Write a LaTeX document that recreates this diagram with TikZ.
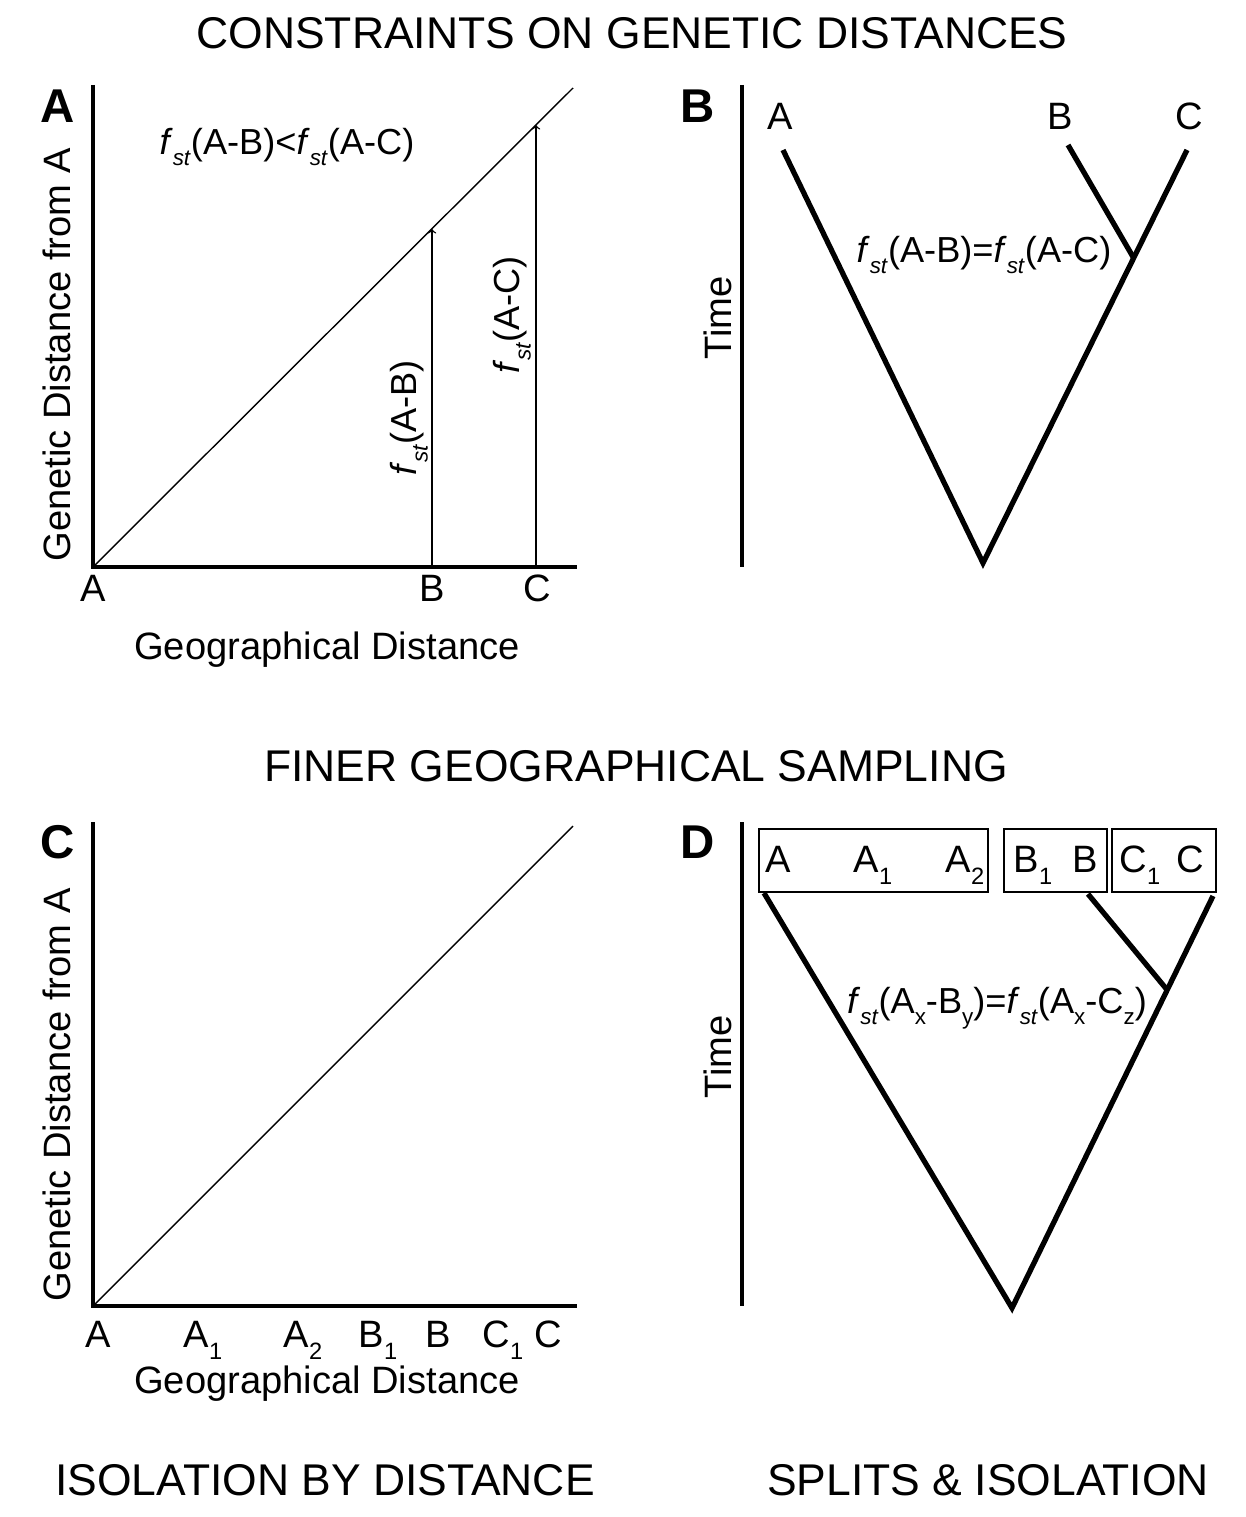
\documentclass[tikz,border=0pt]{standalone}
\usepackage{fontspec}
\setmainfont{Liberation Sans}
\usetikzlibrary{positioning,calc}
\newcommand{\lowsub}[1]{\raisebox{-0.6ex}{\scalebox{0.62}{#1}}}
\newcommand{\fst}{\textit{f}\lowsub{\textit{st}}}

\begin{document}
\begin{tikzpicture}[x=0.02cm,y=-0.02cm,
  axis/.style={line width=2.2pt},
  branch/.style={line width=3pt},
  diag/.style={line width=0.8pt},
  boxline/.style={line width=0.9pt},
  title/.style={font=\fontsize{25.3}{28}\selectfont},
  lab/.style={font=\fontsize{21.7}{24}\selectfont},
  eqlab/.style={font=\fontsize{20.6}{24}\selectfont},
  panel/.style={font=\fontsize{27}{30}\selectfont\bfseries}]
\useasboundingbox (0,0) rectangle (1246,1517);
\def\yTop{85}
\def\yBot{567}
\def\yTopC{822}
\def\yBotC{1306}

% titles
\node[title] (t1) at (632,33) {CONSTRAINTS ON GENETIC DISTANCES};
\node[title] (t2) at (636,766) {FINER GEOGRAPHICAL SAMPLING};
\node[title] (t3) at (325,1480) {ISOLATION BY DISTANCE};
\node[title] (t4) at (988,1480) {SPLITS \& ISOLATION};

% panel A
\coordinate (oA) at (93,\yBot);
\coordinate (yA) at (93,\yTop);
\coordinate (xA) at (577,\yBot);
\coordinate (dA) at (573,88);
\coordinate (bA) at (432,\yBot);
\coordinate (cA) at (536,\yBot);
\coordinate (bAtop) at (432,229);
\coordinate (cAtop) at (536,125);
\draw[axis] (yA) -- (oA) -- (xA);
\draw[diag] (oA) -- (dA);
\draw[diag,->] (bA) -- (bAtop);
\draw[diag,->] (cA) -- (cAtop);
\path
(58,106) node [panel] (pA) {A}
(93,588) node [lab] (axA) {A}
(432,588) node [lab] (axB) {B}
(537,588) node [lab] (axC) {C}
(327,650) node [lab] (geoA) {Geographical Distance}
(57,355) node [lab,rotate=90] (genA) {Genetic Distance from A}
(287,147) node [eqlab] (ineq) {\fst(A-B)<\fst(A-C)}
(409,418) node [eqlab,rotate=90] (fAB) {\fst(A-B)}
(512,315) node [eqlab,rotate=90] (fAC) {\fst(A-C)}
;

% panel B
\coordinate (tB1) at (742,\yTop);
\coordinate (tB2) at (742,\yBot);
\draw[axis] (tB1) -- (tB2);
\coordinate (rootB) at (983,563);
\coordinate (tipA) at (783,150);
\coordinate (tipB) at (1068,145);
\coordinate (tipC) at (1187,150);
\coordinate (splitB) at ($(rootB)!0.7385!(tipC)$);
\draw[branch] (tipA) -- (rootB) -- (tipC);
\draw[branch] (tipB) -- (splitB);
\path
(698,106) node [panel] (pB) {B}
(718,318) node [lab,rotate=90] (timeB) {Time}
(780,116) node [lab] (lA) {A}
(1060,116) node [lab] (lB) {B}
(1189,116) node [lab] (lC) {C}
(984,255) node [eqlab] (eqB) {\fst(A-B)=\fst(A-C)}
;

% panel C
\coordinate (oC) at (93,\yBotC);
\coordinate (yC) at (93,\yTopC);
\coordinate (xC) at (577,\yBotC);
\coordinate (dC) at (573,826);
\draw[axis] (yC) -- (oC) -- (xC);
\draw[diag] (oC) -- (dC);
\path
(58,842) node [panel] (pC) {C}
(327,1384) node [lab] (geoC) {Geographical Distance}
(57,1095) node [lab,rotate=90] (genC) {Genetic Distance from A}
;
\foreach \x/\t [count=\i] in {98/A, 203/A\lowsub{1}, 303/A\lowsub{2}, 378/B\lowsub{1}, 438/B, 503/C\lowsub{1}, 548/C}
  \node[lab,anchor=base] (sC\i) at (\x,1347) {\t};

% panel D
\coordinate (tD1) at (742,\yTopC);
\coordinate (tD2) at (742,\yBotC);
\draw[axis] (tD1) -- (tD2);
\draw[boxline] (759,829) rectangle (988,892);
\draw[boxline] (1004,829) rectangle (1107,892);
\draw[boxline] (1112,829) rectangle (1216,892);
\foreach \x/\t [count=\i] in {778/A, 873/A\lowsub{1}, 965/A\lowsub{2}, 1033/B\lowsub{1}, 1085/B, 1140/C\lowsub{1}, 1190/C}
  \node[lab,anchor=base] (sD\i) at (\x,872) {\t};
\coordinate (rootD) at (1012,1308);
\coordinate (tipDA) at (764,893);
\coordinate (tipDB) at (1088,894);
\coordinate (tipDC) at (1213,896);
\coordinate (splitD) at ($(rootD)!0.772!(tipDC)$);
\draw[branch] (tipDA) -- (rootD) -- (tipDC);
\draw[branch] (tipDB) -- (splitD);
\path
(698,842) node [panel] (pD) {D}
(718,1057) node [lab,rotate=90] (timeD) {Time}
(997,1008) node [eqlab] (eqD) {\fst(A\lowsub{x}-B\lowsub{y})=\fst(A\lowsub{x}-C\lowsub{z})}
;
\end{tikzpicture}
\end{document}
